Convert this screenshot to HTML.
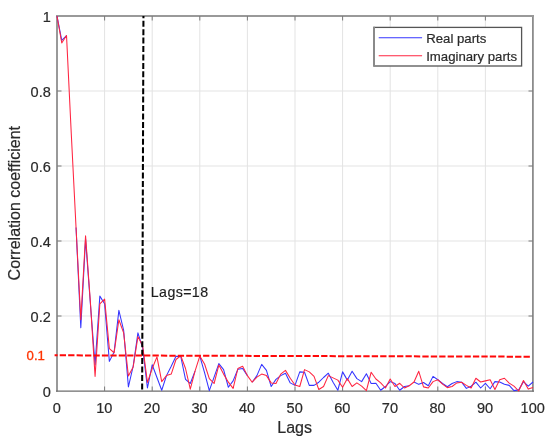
<!DOCTYPE html>
<html lang="en"><head><meta charset="utf-8"><title>Correlation coefficient vs Lags</title>
<style>html,body{margin:0;padding:0;background:#fff;}body{width:550px;height:443px;overflow:hidden;}svg{display:block;filter:blur(0.35px);}text{font-family:"Liberation Sans",sans-serif;fill:#2a2a2a;stroke:#2a2a2a;stroke-width:0.2px;}.tick{font-size:14.55px;}.lab{font-size:16px;}.leg{font-size:13.2px;}</style></head><body>
<svg width="550" height="443" viewBox="0 0 550 443">
<rect x="0" y="0" width="550" height="443" fill="#ffffff"/>
<g stroke="#e3e3e3" stroke-width="1" fill="none">
<line x1="104.60" y1="16.00" x2="104.60" y2="391.00"/>
<line x1="152.20" y1="16.00" x2="152.20" y2="391.00"/>
<line x1="199.80" y1="16.00" x2="199.80" y2="391.00"/>
<line x1="247.40" y1="16.00" x2="247.40" y2="391.00"/>
<line x1="295.00" y1="16.00" x2="295.00" y2="391.00"/>
<line x1="342.60" y1="16.00" x2="342.60" y2="391.00"/>
<line x1="390.20" y1="16.00" x2="390.20" y2="391.00"/>
<line x1="437.80" y1="16.00" x2="437.80" y2="391.00"/>
<line x1="485.40" y1="16.00" x2="485.40" y2="391.00"/>
<line x1="57.00" y1="316.00" x2="533.00" y2="316.00"/>
<line x1="57.00" y1="241.00" x2="533.00" y2="241.00"/>
<line x1="57.00" y1="166.00" x2="533.00" y2="166.00"/>
<line x1="57.00" y1="91.00" x2="533.00" y2="91.00"/>
</g>
<g stroke="#7a7a7a" fill="none">
<line x1="57.00" y1="15.00" x2="57.00" y2="391.60" stroke="#999999" stroke-width="2"/>
<line x1="532.90" y1="15.00" x2="532.90" y2="391.60" stroke="#8c8c8c" stroke-width="1.8"/>
<line x1="56.00" y1="16.00" x2="534.00" y2="16.00" stroke="#999999" stroke-width="2"/>
<line x1="56.00" y1="391.00" x2="534.00" y2="391.00" stroke="#6c6c6c" stroke-width="1.25"/>
<g stroke-width="1">
<line x1="104.60" y1="391.00" x2="104.60" y2="386.50"/>
<line x1="104.60" y1="16.00" x2="104.60" y2="20.50"/>
<line x1="152.20" y1="391.00" x2="152.20" y2="386.50"/>
<line x1="152.20" y1="16.00" x2="152.20" y2="20.50"/>
<line x1="199.80" y1="391.00" x2="199.80" y2="386.50"/>
<line x1="199.80" y1="16.00" x2="199.80" y2="20.50"/>
<line x1="247.40" y1="391.00" x2="247.40" y2="386.50"/>
<line x1="247.40" y1="16.00" x2="247.40" y2="20.50"/>
<line x1="295.00" y1="391.00" x2="295.00" y2="386.50"/>
<line x1="295.00" y1="16.00" x2="295.00" y2="20.50"/>
<line x1="342.60" y1="391.00" x2="342.60" y2="386.50"/>
<line x1="342.60" y1="16.00" x2="342.60" y2="20.50"/>
<line x1="390.20" y1="391.00" x2="390.20" y2="386.50"/>
<line x1="390.20" y1="16.00" x2="390.20" y2="20.50"/>
<line x1="437.80" y1="391.00" x2="437.80" y2="386.50"/>
<line x1="437.80" y1="16.00" x2="437.80" y2="20.50"/>
<line x1="485.40" y1="391.00" x2="485.40" y2="386.50"/>
<line x1="485.40" y1="16.00" x2="485.40" y2="20.50"/>
<line x1="57.00" y1="316.00" x2="61.50" y2="316.00"/>
<line x1="533.00" y1="316.00" x2="528.50" y2="316.00"/>
<line x1="57.00" y1="241.00" x2="61.50" y2="241.00"/>
<line x1="533.00" y1="241.00" x2="528.50" y2="241.00"/>
<line x1="57.00" y1="166.00" x2="61.50" y2="166.00"/>
<line x1="533.00" y1="166.00" x2="528.50" y2="166.00"/>
<line x1="57.00" y1="91.00" x2="61.50" y2="91.00"/>
<line x1="533.00" y1="91.00" x2="528.50" y2="91.00"/>
</g></g>
<polyline points="57.00,16.00 61.76,40.38 66.52,35.50" fill="none" stroke="#3434ff" stroke-width="1.05" stroke-linejoin="round"/>
<polyline points="76.04,227.50 80.80,327.62 85.56,239.12 90.32,302.88 95.08,364.75 99.84,296.12 104.60,303.81 109.36,361.38 114.12,352.00 118.88,310.38 123.64,330.25 128.40,386.88 133.16,366.25 137.92,332.88 142.68,347.88 147.44,388.00 152.20,364.75 156.96,377.50 161.72,390.25 166.48,375.62 171.24,366.25 176.00,356.31 180.76,356.50 185.52,379.38 190.28,383.50 195.04,371.12" fill="none" stroke="#3434ff" stroke-width="1.05" stroke-linejoin="round"/>
<polyline points="199.80,356.12 204.56,372.62 209.32,390.62 214.08,377.12 218.84,363.62 223.60,369.62 228.36,387.25 233.12,380.88 237.88,369.25 242.64,368.50 247.40,375.62" fill="none" stroke="#3434ff" stroke-width="1.05" stroke-linejoin="round"/>
<polyline points="252.16,382.19 256.92,375.62 261.68,364.38 266.44,370.38 271.20,386.50 275.96,379.38 280.72,375.62 285.48,373.19 290.24,382.90 295.00,385.38 299.76,371.88 304.52,372.25 309.28,385.38 314.04,385.38 318.80,382.19 323.56,377.50 328.32,373.19 333.08,382.19 337.84,390.25 342.60,371.88 347.36,380.12 352.12,371.31 356.88,378.62 361.64,381.62 366.40,373.75 371.16,383.50 375.92,383.31 380.68,390.25 385.44,386.50 390.20,381.62 394.96,383.50 399.72,390.25 404.48,386.50 409.24,385.75" fill="none" stroke="#3434ff" stroke-width="1.05" stroke-linejoin="round"/>
<polyline points="414.00,382.00 418.76,384.36 423.52,382.49 428.28,385.75 433.04,376.38 437.80,379.75 442.56,383.50 447.32,386.69 452.08,383.50 456.84,381.62 461.60,382.19 466.36,388.38 471.12,386.24 475.88,382.19 480.64,388.00 485.40,383.31 490.16,388.75 494.92,381.62 499.68,382.00 504.44,384.25 509.20,385.38 513.96,390.62 518.72,389.88 523.48,381.62 528.24,386.12 533.00,382.00" fill="none" stroke="#3434ff" stroke-width="1.05" stroke-linejoin="round"/>
<polyline points="57.00,16.00 61.76,43.00 66.52,35.50 71.28,133.75 76.04,227.50 80.80,319.75 85.56,235.75 90.32,301.00 95.08,376.38 99.84,303.81 104.60,299.12 109.36,348.62 114.12,352.75 118.88,319.75 123.64,332.88 128.40,376.00 133.16,367.00 137.92,336.62 142.68,346.00 147.44,382.38 152.20,368.50 156.96,356.88 161.72,381.62 166.48,375.62 171.24,374.12 176.00,359.50 180.76,355.75 185.52,368.50 190.28,389.12 195.04,371.12 199.80,356.12 204.56,364.00 209.32,378.62 214.08,383.50 218.84,365.12 223.60,374.12 228.36,382.19 233.12,388.38 237.88,368.50 242.64,366.25 247.40,375.62 252.16,382.19 256.92,377.12 261.68,374.12 266.44,375.62 271.20,382.90 275.96,383.50 280.72,374.12 285.48,370.38 290.24,378.25 295.00,385.00 299.76,386.50 304.52,369.62 309.28,371.88 314.04,376.38 318.80,389.50 323.56,386.50 328.32,375.62 333.08,377.88 337.84,380.12 342.60,387.25 347.36,378.62 352.12,386.50 356.88,382.90 361.64,386.12 366.40,390.62 371.16,372.25 375.92,379.00 380.68,382.90 385.44,388.00 390.20,379.00 394.96,386.50 399.72,383.31 404.48,388.00 409.24,385.75 414.00,382.00 418.76,371.31 423.52,386.88 428.28,388.00 433.04,381.62 437.80,379.75 442.56,384.06 447.32,387.62 452.08,386.50 456.84,382.90 461.60,382.19 466.36,385.38 471.12,388.00 475.88,378.25 480.64,382.00 485.40,380.88 490.16,379.75 494.92,389.50 499.68,379.75 504.44,378.25 509.20,383.12 513.96,386.12 518.72,391.00 523.48,380.50 528.24,389.12 533.00,387.62" fill="none" stroke="#ff2440" stroke-width="1.05" stroke-linejoin="round"/>
<line x1="143.45" y1="16.00" x2="142.15" y2="389.60" stroke="#000" stroke-width="2.05" stroke-dasharray="6.0 2.435" stroke-dashoffset="3.73"/>
<line x1="54.6" y1="355.3" x2="530.2" y2="356.7" stroke="#ff0808" stroke-width="2.0" stroke-dasharray="6.3 2.133" stroke-dashoffset="3.3"/>
<text class="tick" x="50.8" y="396.70" text-anchor="end">0</text>
<text class="tick" x="50.8" y="321.70" text-anchor="end">0.2</text>
<text class="tick" x="50.8" y="246.70" text-anchor="end">0.4</text>
<text class="tick" x="50.8" y="171.70" text-anchor="end">0.6</text>
<text class="tick" x="50.8" y="96.70" text-anchor="end">0.8</text>
<text class="tick" x="50.8" y="21.70" text-anchor="end">1</text>
<text class="tick" x="56.70" y="412.6" text-anchor="middle">0</text>
<text class="tick" x="104.30" y="412.6" text-anchor="middle">10</text>
<text class="tick" x="151.90" y="412.6" text-anchor="middle">20</text>
<text class="tick" x="199.50" y="412.6" text-anchor="middle">30</text>
<text class="tick" x="247.10" y="412.6" text-anchor="middle">40</text>
<text class="tick" x="294.70" y="412.6" text-anchor="middle">50</text>
<text class="tick" x="342.30" y="412.6" text-anchor="middle">60</text>
<text class="tick" x="389.90" y="412.6" text-anchor="middle">70</text>
<text class="tick" x="437.50" y="412.6" text-anchor="middle">80</text>
<text class="tick" x="485.10" y="412.6" text-anchor="middle">90</text>
<text class="tick" x="532.70" y="412.6" text-anchor="middle">100</text>
<text class="lab" x="294.6" y="433.1" text-anchor="middle">Lags</text>
<text class="lab" transform="translate(20.3,203.2) rotate(-90)" text-anchor="middle">Correlation coefficient</text>
<text x="150.8" y="297.1" style="font-size:14.2px;letter-spacing:0.4px;fill:#1c1c1c;stroke:#1c1c1c;stroke-width:0.15px">Lags=18</text>
<text x="26.6" y="359.9" style="font-size:13.2px;fill:#ff3300;stroke:#ff3300;stroke-width:0.3px">0.1</text>
<rect x="374" y="27.4" width="147.6" height="38.6" fill="#fff" stroke="#555" stroke-width="1.3"/>
<line x1="374" y1="26.8" x2="374" y2="66.6" stroke="#8a8a8a" stroke-width="2"/>
<line x1="378.7" y1="37.7" x2="422.1" y2="37.7" stroke="#3434ff" stroke-width="1.05"/>
<line x1="378.7" y1="55.8" x2="422.1" y2="55.8" stroke="#ff2440" stroke-width="1.05"/>
<text class="leg" x="426.2" y="42.6">Real parts</text>
<text class="leg" x="426.2" y="60.6">Imaginary parts</text>
</svg></body></html>
